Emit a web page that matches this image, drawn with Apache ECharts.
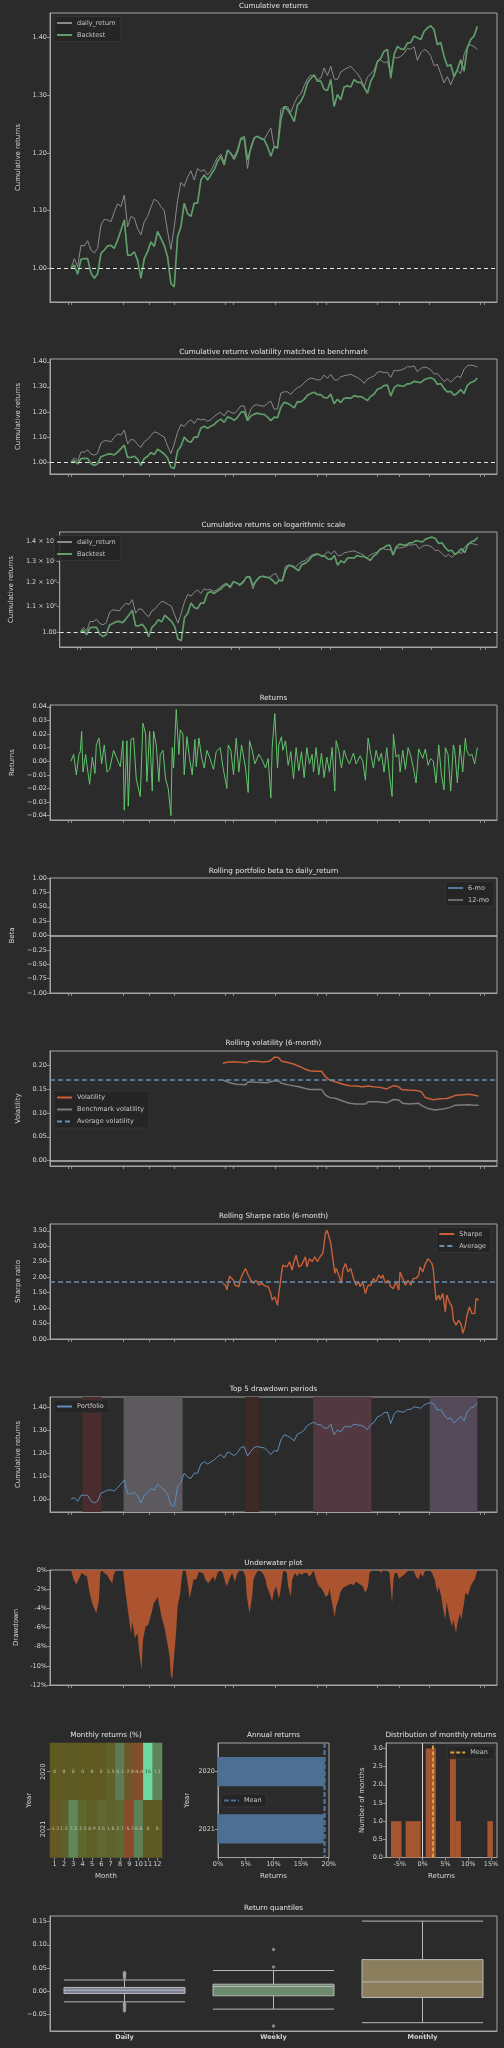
<!DOCTYPE html>
<html><head><meta charset="utf-8">
<script src="https://cdn.jsdelivr.net/npm/echarts@6/dist/echarts.min.js"></script>
<style>html,body{margin:0;padding:0;background:#2b2b2b}#c{width:504px;height:2048px}</style>
</head><body><div id="c"></div>
<script>
// ---------------- DATA ----------------
// cumulative series sampled every 2.5 trading days from day 0
const cumStep = 2.5;
const benchCum = [1.000,1.017,1.003,1.040,1.039,1.048,1.032,1.027,1.035,1.075,
1.085,1.084,1.081,1.098,1.112,1.107,1.127,1.072,1.090,1.087,
1.069,1.058,1.081,1.090,1.106,1.120,1.116,1.107,1.100,1.064,
1.033,1.072,1.118,1.149,1.142,1.158,1.169,1.153,1.173,1.168,
1.171,1.162,1.169,1.181,1.192,1.198,1.183,1.205,1.198,1.194,
1.206,1.224,1.223,1.173,1.211,1.227,1.228,1.224,1.223,1.234,
1.243,1.211,1.211,1.275,1.280,1.280,1.270,1.285,1.297,1.302,
1.316,1.328,1.335,1.332,1.327,1.329,1.347,1.334,1.350,1.328,
1.327,1.340,1.344,1.347,1.350,1.343,1.337,1.328,1.314,1.331,
1.337,1.343,1.358,1.361,1.356,1.358,1.337,1.366,1.364,1.367,
1.372,1.381,1.379,1.384,1.360,1.373,1.379,1.376,1.368,1.351,
1.353,1.337,1.321,1.332,1.318,1.332,1.343,1.337,1.370,1.384,
1.387,1.384,1.379];
const backtestCum = [1.000,1.006,0.990,1.016,1.017,1.017,0.992,0.983,0.991,1.026,
1.032,1.039,1.040,1.035,1.049,1.066,1.084,1.023,1.023,1.029,
1.014,0.983,1.017,1.029,1.046,1.038,1.064,1.052,1.040,1.020,
0.974,0.968,1.055,1.072,1.113,1.095,1.090,1.113,1.113,1.153,
1.162,1.153,1.162,1.171,1.185,1.194,1.179,1.205,1.199,1.189,
1.202,1.225,1.228,1.188,1.208,1.225,1.229,1.225,1.223,1.211,
1.194,1.211,1.208,1.257,1.280,1.275,1.266,1.254,1.283,1.289,
1.301,1.321,1.329,1.335,1.324,1.324,1.310,1.308,1.327,1.280,
1.301,1.292,1.314,1.316,1.314,1.327,1.322,1.322,1.314,1.303,
1.324,1.335,1.358,1.364,1.376,1.379,1.329,1.370,1.384,1.380,
1.379,1.390,1.391,1.402,1.399,1.396,1.410,1.416,1.420,1.413,
1.387,1.391,1.367,1.350,1.353,1.332,1.344,1.361,1.341,1.382,
1.396,1.402,1.419];
const volMatchedCum = [1.000,1.005,0.992,1.013,1.014,1.014,0.994,0.986,0.993,1.021,
1.026,1.031,1.032,1.028,1.039,1.053,1.067,1.018,1.018,1.023,
1.011,0.986,1.014,1.023,1.037,1.030,1.051,1.042,1.032,1.016,
0.979,0.974,1.044,1.063,1.099,1.084,1.079,1.099,1.099,1.135,
1.143,1.135,1.143,1.150,1.163,1.171,1.158,1.180,1.175,1.166,
1.178,1.198,1.201,1.165,1.183,1.191,1.195,1.191,1.190,1.179,
1.165,1.179,1.177,1.218,1.238,1.234,1.226,1.216,1.241,1.240,
1.250,1.266,1.273,1.278,1.269,1.269,1.257,1.256,1.271,1.232,
1.250,1.237,1.254,1.256,1.254,1.265,1.261,1.261,1.254,1.245,
1.262,1.271,1.290,1.295,1.305,1.307,1.263,1.296,1.307,1.304,
1.303,1.312,1.313,1.322,1.319,1.317,1.328,1.333,1.336,1.330,
1.310,1.313,1.294,1.280,1.282,1.266,1.275,1.289,1.273,1.306,
1.317,1.322,1.335];

const retDays = [0,2,4,6,7,8,9,11,12,14,16,18,19,21,23,25,27,29,32,34,
37,39,40,42,43,45,47,49,52,54,56,57,59,61,62,64,66,67,69,71,
73,75,76,77,79,81,82,84,85,87,89,91,93,94,96,98,100,102,104,107,
109,112,114,117,118,120,122,124,126,128,131,133,134,136,138,141,143,146,148,150,
151,153,155,156,158,159,161,163,165,167,169,171,173,175,177,179,181,182,184,186,
188,190,192,194,196,198,199,201,203,205,207,209,212,214,217,219,221,223,225,227,
229,231,233,235,237,239,241,242,244,246,247,249,251,253,255,257,259,261,262,264,
266,268,270,272,274,276,278,280,281,283,285,287,288,290,292,294,296,297,299,301,303,305];
const retValues = [0.000,0.005,-0.010,0.005,0.007,0.022,-0.008,0.005,-0.003,-0.017,
0.003,-0.009,0.012,0.017,-0.002,0.012,-0.008,-0.006,0.008,0.003,
-0.004,0.015,-0.036,0.015,-0.033,0.016,0.017,-0.013,-0.026,0.028,
0.020,-0.015,0.022,-0.022,0.022,0.012,-0.015,0.005,0.008,-0.013,
-0.020,-0.040,0.010,-0.005,0.038,0.005,0.023,0.020,-0.010,0.018,
0.002,-0.010,0.016,-0.004,0.017,0.003,-0.005,0.008,0.003,-0.006,
0.007,0.010,-0.004,-0.020,0.012,0.008,-0.010,0.017,-0.008,0.012,
-0.005,-0.023,0.015,0.008,-0.002,0.005,0.002,-0.005,0.002,-0.027,
0.010,0.035,-0.005,0.012,0.018,0.008,0.015,-0.003,0.007,-0.013,
0.010,-0.007,0.007,-0.012,0.010,-0.002,0.005,-0.008,0.010,-0.010,
0.006,-0.012,0.003,-0.008,0.010,-0.022,0.015,0.008,-0.005,0.008,
0.002,-0.002,0.006,-0.002,0.004,0.000,-0.014,0.017,0.005,-0.005,
0.008,0.000,0.006,-0.008,0.010,-0.010,-0.026,0.020,0.003,0.005,
-0.008,0.008,-0.006,0.010,0.004,-0.005,-0.016,0.009,0.009,0.002,
0.009,-0.003,0.002,0.000,-0.016,0.012,-0.010,-0.021,0.010,0.005,
-0.022,0.012,0.008,-0.016,0.012,-0.008,0.017,0.008,0.004,0.005,
-0.002,0.010];

const volDays = [114,117,122,127,132,134,139,144,149,153,156,158,162,167,172,176,179,184,188,191,
194,199,204,209,214,219,223,227,232,237,242,246,248,253,259,263,266,269,272,277,282,286,289,294,299,303,306];
const volValues = [0.2035,0.2056,0.207,0.2056,0.205,0.208,0.2077,0.2063,0.2077,0.217,
0.215,0.208,0.2056,0.202,0.1965,0.191,0.188,0.187,0.187,0.1756,
0.1686,0.1645,0.160,0.1568,0.156,0.1547,0.156,0.1547,0.1533,0.150,
0.1568,0.1547,0.149,0.1477,0.147,0.144,0.132,0.1296,0.1275,0.1296,
0.130,0.1338,0.137,0.138,0.1387,0.137,0.135];
const benchVolDays = [114,119,124,131,133,139,147,152,156,158,164,171,176,179,188,191,194,199,204,209,
214,221,223,229,237,242,246,249,254,261,264,268,273,279,284,288,293,298,302,306];
const benchVolValues = [0.1686,0.163,0.160,0.159,0.165,0.1638,0.163,0.1666,0.1666,0.1617,
0.158,0.1547,0.151,0.149,0.149,0.137,0.1324,0.130,0.1247,0.120,
0.1185,0.1185,0.123,0.123,0.121,0.128,0.127,0.120,0.1185,0.120,
0.114,0.109,0.106,0.108,0.111,0.1157,0.1164,0.117,0.1157,0.1157];
const avgVolatility = 0.169;

const sharpeDays = [114,116,117,119,122,123,126,127,129,131,133,135,137,139,141,143,146,148,150,151,
153,155,156,158,159,162,164,166,167,169,171,173,176,177,179,181,183,185,187,189,
191,192,193,195,196,198,199,201,203,204,206,208,210,212,214,216,217,219,221,223,
225,227,229,231,233,234,236,238,240,242,244,246,247,249,251,253,255,257,259,261,
262,264,266,268,271,272,274,276,277,279,281,282,284,286,287,289,291,293,294,296,
297,299,301,303,304,306];
const sharpeValues = [1.80,1.74,1.58,2.03,1.90,1.74,1.69,1.90,2.12,2.28,
2.07,1.90,1.80,1.90,1.74,1.80,1.71,1.69,1.47,1.26,
1.36,1.09,1.47,2.12,2.39,2.33,2.50,2.23,2.44,2.71,
2.33,2.39,2.66,2.33,2.60,2.50,2.66,2.50,2.66,2.77,
3.41,3.52,3.41,3.09,2.77,2.12,2.28,2.07,1.80,2.23,
2.44,2.17,2.28,1.96,1.74,1.85,1.69,1.85,1.47,1.74,
1.74,1.96,1.85,2.07,1.96,2.07,1.80,1.90,1.69,1.63,
1.85,1.58,2.17,1.96,1.74,1.90,1.74,1.96,1.96,2.07,
2.33,2.17,2.44,2.60,2.44,2.23,1.26,1.42,1.26,1.47,
0.88,1.42,1.20,1.04,0.61,0.45,0.61,0.45,0.18,0.45,
0.72,1.04,0.82,0.82,1.31,1.26];
const avgSharpe = 1.85;

const ddStart = [8.5, 39.5, 130.5, 181.75, 269.25];
const ddEnd = [23, 83.75, 141.25, 225.5, 305];

const uwDays = [0,2,4,6,8,10,12,14,16,18,19,21,22,23,25,27,29,31,32,34,
39,41,43,45,46,48,50,51,53,54,56,58,59,61,62,64,65,66,68,70,
72,74,75,76,77,79,80,82,83,84,86,88,89,91,92,94,96,97,99,101,
103,105,107,108,110,112,114,116,117,119,121,123,125,127,129,131,132,134,136,137,
139,141,144,146,147,149,151,152,154,156,157,159,160,162,163,165,166,168,170,171,
173,175,177,179,181,182,184,186,188,190,191,193,194,196,198,199,201,202,204,206,
208,210,212,214,216,217,219,221,223,224,226,231,233,234,237,239,241,242,243,245,
246,248,250,252,254,257,259,261,262,264,266,269,271,273,275,276,278,279,281,282,
284,286,287,289,290,292,293,295,296,298,300,301,303,305];
const uwValues = [0,-1.0,-1.5,-0.9,-0.3,-0.5,-0.7,-2.4,-3.5,-4.2,
-4.5,-3.1,-0.3,0,-0.3,-0.5,-1.0,-1.4,-0.5,0,
0,-2.4,-4.5,-6.6,-5.4,-7.1,-6.6,-8.3,-10.4,-7.3,
-5.9,-5.7,-5.2,-4.2,-3.5,-3.1,-2.8,-3.5,-4.9,-5.9,
-7.3,-9.0,-11.0,-11.4,-9.7,-6.3,-3.8,-2.4,-1.0,0,
0,-1.7,-3.0,-1.7,-1.0,-1.0,-0.2,0,-0.3,-1.0,
-1.4,-1.0,-0.7,-1.2,-0.3,0,-0.3,-1.4,-1.7,-0.9,
-0.3,-1.2,-0.3,0,0,-0.7,-2.8,-4.5,-2.8,-1.0,
-0.3,0,-0.3,-1.0,-1.7,-2.4,-3.3,-2.4,-1.7,-3.0,
-2.4,-0.3,0,-0.3,-1.7,-2.8,-1.0,-0.3,-0.7,-0.3,
-0.5,-0.3,-0.3,-0.7,-0.3,0,-1.0,-1.7,-1.9,-2.4,
-2.8,-2.6,-1.9,-3.5,-4.9,-3.8,-3.1,-2.4,-1.9,-1.7,
-1.6,-1.4,-1.6,-1.2,-1.4,-1.6,-1.7,-2.4,-1.7,-0.3,
0,0,-0.3,0,0,-0.3,-3.5,-1.0,-0.3,-0.3,
-0.9,-0.7,-0.5,-0.2,0,0,-0.7,-1.0,-0.3,-0.7,
0,0,-0.3,-1.0,-2.4,-1.7,-2.8,-3.8,-5.2,-3.3,
-4.9,-5.9,-5.2,-6.6,-5.6,-4.5,-5.2,-3.5,-2.4,-2.6,
-1.7,-1.4,-1.0,0];

const xTickDays = [-2, 0, 39.5, 58.5, 77.5, 116, 121.75, 153, 184.75, 191.5, 230, 246.75, 269, 307.25, 310.5];

const months = ['1','2','3','4','5','6','7','8','9','10','11','12'];
const years = ['2020','2021'];
const monthly2020 = [0,0,0,0,0,0,1.5,6.1,-2.8,-4.4,15,7.1];
const monthly2021 = [-1.2,1.2,7.3,2.3,0.9,2.5,1.6,2.7,-5.7,6.6,0,0];

const annualYears = ['2020','2021'];
const annualReturns = [19.3, 19.1];
const annualMean = 19.2;

const histFrom = [-6.9, -3.7, 0.7, 6.0, 7.3, 14.2];
const histTo = [-4.6, -0.4, 2.9, 7.3, 8.4, 15.4];
const histCount = [1, 1, 3, 3, 1, 1];
const monthlyMean = 2.2;

const quantileCats = ['Daily','Weekly','Monthly'];
const dailyBox = [-0.023, -0.005, 0.002, 0.008, 0.024];
const weeklyBox = [-0.0387, -0.010, 0.010, 0.015, 0.0444];
const monthlyBox = [-0.068, -0.0136, 0.020, 0.068, 0.151];
const dailyOutliers = [0.028, 0.031, 0.034, 0.036, 0.038, 0.040, -0.026, -0.029, -0.031, -0.034, -0.037, -0.040, -0.043];
const weeklyOutliers = [0.090, 0.052, -0.075];

// ---------------- STYLE / LAYOUT ----------------
const FF = 'DejaVu Sans';
const TXT = '#d4d4d4';
const AX = '#a4a4a4';
const C_BENCH = '#8a8a8a', C_GREEN = '#5f9d6b', C_RET = '#62c46c', C_ORANGE = '#c9603a', C_AVG = '#6c8fb0', C_BLUE = '#5d8fbd';
const ddColors = ['#4a2c2f', '#5c5a5f', '#3d2a26', '#523841', '#554a59'];
const L = 50, W = 447, H = 115;
const gridTops = [13, 359, 532, 705, 878, 1051, 1224, 1397, 1570];
const grids = [];
gridTops.forEach((t, i) => grids.push({left: L, top: t, width: W, height: i === 0 ? 289 : H}));
grids.push({left: 50, top: 1743, width: 112, height: 114.5, show: false});   // 9 heatmap
grids.push({left: 218, top: 1743, width: 111, height: 114.5});              // 10 annual
grids.push({left: 386, top: 1743, width: 111, height: 114.5});              // 11 hist
grids.push({left: 50, top: 1916, width: 447, height: 115});                 // 12 quantiles
grids.forEach(g => { if (g.show !== false) { g.show = true; g.borderColor = AX; g.borderWidth = 1; g.backgroundColor = 'transparent'; } });

const minus = s => s.replace('-', '\u2212');
const f2 = v => minus(v.toFixed(2));
const labelStyle = {color: TXT, fontSize: 6.5, fontFamily: FF, margin: 3};
const nameStyle = {color: TXT, fontSize: 7, fontFamily: FF};
const tickStyle = {show: true, inside: false, length: 3, lineStyle: {color: AX, width: 0.8}};
const axLine = {show: true, onZero: false, lineStyle: {color: AX, width: 1}};
const noLine = {show: false, onZero: false};

function timeX(gi) {
  return {type: 'value', gridIndex: gi, min: -15.75, max: 319.75, axisLine: axLine, splitLine: {show: false},
    axisLabel: {show: false}, axisTick: Object.assign({customValues: xTickDays}, tickStyle)};
}
function valY(gi, min, max, ticks, fmt, name, gap, type) {
  return {type: type || 'value', gridIndex: gi, min: min, max: max, axisLine: axLine, splitLine: {show: false},
    axisTick: Object.assign({customValues: ticks}, tickStyle),
    axisLabel: Object.assign({customValues: ticks, formatter: fmt}, labelStyle),
    name: name, nameLocation: 'middle', nameGap: gap, nameTextStyle: nameStyle};
}
const xAxes = [], yAxes = [];
for (let i = 0; i < 9; i++) xAxes.push(timeX(i));
const cumTicks = [1.0, 1.1, 1.2, 1.3, 1.4];
yAxes.push(valY(0, 0.942, 1.442, cumTicks, f2, 'Cumulative returns', 24));
yAxes.push(valY(1, 0.952, 1.411, cumTicks, f2, 'Cumulative returns', 24));
yAxes.push(valY(2, 0.946, 1.4475, cumTicks, v => Math.abs(v - 1) < 1e-9 ? '1.00' : v.toFixed(1) + ' \u00d7 10\u2070', 'Cumulative returns', 40, 'log'));
yAxes.push(valY(3, -0.0432, 0.0413, [-0.04, -0.03, -0.02, -0.01, 0, 0.01, 0.02, 0.03, 0.04], f2, 'Returns', 29));
yAxes.push(valY(4, -1, 1, [-1, -0.75, -0.5, -0.25, 0, 0.25, 0.5, 0.75, 1], f2, 'Beta', 26));
yAxes.push(valY(5, -0.011, 0.2293, [0, 0.05, 0.1, 0.15, 0.2], f2, 'Volatility', 24));
yAxes.push(valY(6, 0, 3.72, [0, 0.5, 1, 1.5, 2, 2.5, 3, 3.5], f2, 'Sharpe ratio', 24));
yAxes.push(valY(7, 0.9437, 1.4446, cumTicks, f2, 'Cumulative returns', 24));
yAxes.push(valY(8, -12, 0, [-12, -10, -8, -6, -4, -2, 0], v => v + '%', 'Drawdown', 26));
// heatmap axes
xAxes.push({type: 'category', gridIndex: 9, data: months, axisLine: noLine, splitLine: {show: false},
  axisTick: Object.assign({alignWithLabel: true, interval: 0}, tickStyle), axisLabel: Object.assign({interval: 0}, labelStyle),
  name: 'Month', nameLocation: 'middle', nameGap: 15, nameTextStyle: nameStyle});
yAxes.push({type: 'category', gridIndex: 9, data: years, inverse: true, axisLine: noLine, splitLine: {show: false},
  axisTick: Object.assign({alignWithLabel: true}, tickStyle), axisLabel: Object.assign({rotate: 90, interval: 0}, labelStyle),
  name: 'Year', nameLocation: 'middle', nameGap: 17, nameTextStyle: nameStyle});
// annual axes
xAxes.push({type: 'value', gridIndex: 10, min: 0, max: 20.05, axisLine: axLine, splitLine: {show: false},
  axisTick: Object.assign({customValues: [0, 5, 10, 15, 20]}, tickStyle),
  axisLabel: Object.assign({customValues: [0, 5, 10, 15, 20], formatter: v => v + '%'}, labelStyle),
  name: 'Returns', nameLocation: 'middle', nameGap: 15, nameTextStyle: nameStyle});
yAxes.push({type: 'category', gridIndex: 10, data: annualYears, inverse: true, axisLine: axLine, splitLine: {show: false},
  axisTick: Object.assign({alignWithLabel: true}, tickStyle), axisLabel: labelStyle,
  name: 'Year', nameLocation: 'middle', nameGap: 27, nameTextStyle: nameStyle});
// hist axes
xAxes.push({type: 'value', gridIndex: 11, min: -8, max: 16.3, axisLine: axLine, splitLine: {show: false},
  axisTick: Object.assign({customValues: [-5, 0, 5, 10, 15]}, tickStyle),
  axisLabel: Object.assign({customValues: [-5, 0, 5, 10, 15], formatter: v => v + '%'}, labelStyle),
  name: 'Returns', nameLocation: 'middle', nameGap: 15, nameTextStyle: nameStyle});
yAxes.push(valY(11, 0, 3.15, [0, 0.5, 1, 1.5, 2, 2.5, 3], v => v.toFixed(1), 'Number of months', 20));
// quantile axes
xAxes.push({type: 'category', gridIndex: 12, data: quantileCats, axisLine: axLine, splitLine: {show: false},
  axisTick: Object.assign({alignWithLabel: true}, tickStyle), axisLabel: Object.assign({fontWeight: 'bold'}, labelStyle)});
yAxes.push(valY(12, -0.0859, 0.162, [-0.05, 0, 0.05, 0.1, 0.15], f2, '', 20));

const cumData = arr => arr.map((v, i) => [i * cumStep, v]);
const pairs = (d, v) => d.map((x, i) => [x, v[i]]);
const noMark = {symbol: ['none', 'none'], silent: true, label: {show: false}, animation: false};
const hline = (y, color, type, width) => Object.assign({data: [{yAxis: y}], lineStyle: {color: color, type: type, width: width}}, noMark);
const vline = (x, color, type, width) => Object.assign({data: [{xAxis: x}], lineStyle: {color: color, type: type, width: width}}, noMark);
function line(name, gi, data, color, width, extra) {
  return Object.assign({name: name, type: 'line', xAxisIndex: gi, yAxisIndex: gi, data: data, symbol: 'none',
    lineStyle: {color: color, width: width}, itemStyle: {color: color}, z: 3}, extra || {});
}
const WHITE_DASH = '#e6e6e6';
const series = [];
// panel 1
series.push(line('daily_return', 0, cumData(benchCum), C_BENCH, 1));
series.push(line('Backtest', 0, cumData(backtestCum), C_GREEN, 1.7, {markLine: hline(1, WHITE_DASH, [4, 3], 1.2)}));
// panel 2
series.push(line('daily_return vm', 1, cumData(benchCum), C_BENCH, 1));
series.push(line('Backtest vm', 1, cumData(volMatchedCum), C_GREEN, 1.7, {markLine: hline(1, WHITE_DASH, [4, 3], 1.2)}));
// panel 3
series.push(line('daily_return', 2, cumData(benchCum), C_BENCH, 1));
series.push(line('Backtest', 2, cumData(backtestCum), C_GREEN, 1.7, {markLine: hline(1, WHITE_DASH, [4, 3], 1.2)}));
// panel 4
series.push(line('Returns', 3, pairs(retDays, retValues), C_RET, 1));
// panel 5
series.push(line('6-mo', 4, [], '#56779a', 1.5, {markLine: hline(0, '#bdbdbd', 'solid', 1.5)}));
series.push(line('12-mo', 4, [], '#6a6a6a', 1.5));
// panel 6
series.push(line('Volatility', 5, pairs(volDays, volValues), C_ORANGE, 1.5, {markLine: hline(0, '#bdbdbd', 'solid', 1.5)}));
series.push(line('Benchmark volatility', 5, pairs(benchVolDays, benchVolValues), '#7c7c7c', 1.5));
series.push(line('Average volatility', 5, [], C_AVG, 1.5, {lineStyle: {color: C_AVG, width: 1.5, type: [5, 3]}, markLine: hline(avgVolatility, C_AVG, [5, 3], 1.5)}));
// panel 7
series.push(line('Sharpe', 6, pairs(sharpeDays, sharpeValues), C_ORANGE, 1.4));
series.push(line('Average', 6, [], C_AVG, 1.5, {lineStyle: {color: C_AVG, width: 1.5, type: [5, 3]}, markLine: hline(avgSharpe, C_AVG, [5, 3], 1.5)}));
// panel 8
series.push({name: 'periods', type: 'line', xAxisIndex: 7, yAxisIndex: 7, data: [], z: 1,
  markArea: {silent: true, data: ddStart.map((s, i) => [{xAxis: s, itemStyle: {color: ddColors[i]}}, {xAxis: ddEnd[i]}])}});
series.push(line('Portfolio', 7, cumData(backtestCum), C_BLUE, 1));
// panel 9
series.push(line('Drawdown', 8, pairs(uwDays, uwValues), '#b3562f', 0, {areaStyle: {color: '#b3562f', opacity: 0.95}}));
// heatmap
const heatData = [];
monthly2020.forEach((v, m) => heatData.push({value: [m, 0, v], label: {color: v > 10 ? '#1e3a2a' : '#c6c2a8'}}));
monthly2021.forEach((v, m) => heatData.push({value: [m, 1, v], label: {color: v > 10 ? '#1e3a2a' : '#c6c2a8'}}));
const heatIndex = series.length;
series.push({type: 'heatmap', xAxisIndex: 9, yAxisIndex: 9, data: heatData,
  label: {show: true, fontSize: 4.6, fontFamily: FF, formatter: p => String(p.value[2])}});
// annual
series.push({name: 'Annual', type: 'bar', xAxisIndex: 10, yAxisIndex: 10, data: annualReturns, barWidth: '51%', itemStyle: {color: '#4c6f92'}});
series.push({name: 'Mean', type: 'line', xAxisIndex: 10, yAxisIndex: 10, data: [], symbol: 'none', itemStyle: {color: '#4c6f92'},
  lineStyle: {color: '#4c6f92', width: 2.5, type: [5, 2]}, markLine: vline(annualMean, '#4c6f92', [5, 2], 2.5)});
// hist
series.push({name: 'hist', type: 'custom', xAxisIndex: 11, yAxisIndex: 11,
  data: histFrom.map((f, i) => [f, histTo[i], histCount[i]]), encode: {x: [0, 1], y: 2},
  renderItem: (params, api) => {
    const p0 = api.coord([api.value(0), api.value(2)]);
    const p1 = api.coord([api.value(1), 0]);
    return {type: 'rect', shape: {x: p0[0], y: p0[1], width: p1[0] - p0[0], height: p1[1] - p0[1]}, style: {fill: '#a5552f'}};
  },
  markLine: vline(0, '#d6d6d6', 'solid', 1)});
series.push({name: 'Mean ', type: 'line', xAxisIndex: 11, yAxisIndex: 11, data: [], symbol: 'none', itemStyle: {color: '#d4a23c'},
  lineStyle: {color: '#d4a23c', width: 2, type: [4, 2]}, markLine: vline(monthlyMean, '#d4a23c', [4, 2], 2)});
// quantiles
series.push({name: 'quantiles', type: 'boxplot', xAxisIndex: 12, yAxisIndex: 12, boxWidth: [121, 121],
  itemStyle: {borderColor: '#b9b9b9', borderWidth: 1},
  data: [{value: dailyBox, itemStyle: {color: '#7a8094'}}, {value: weeklyBox, itemStyle: {color: '#6c8b6e'}}, {value: monthlyBox, itemStyle: {color: '#8b7e5d'}}]});
const outData = [];
dailyOutliers.forEach(v => outData.push(['Daily', v]));
weeklyOutliers.forEach(v => outData.push(['Weekly', v]));
series.push({name: 'outliers', type: 'scatter', xAxisIndex: 12, yAxisIndex: 12, data: outData, symbol: 'diamond', symbolSize: 4,
  itemStyle: {color: '#a8a8a8'}});

const titleDefs = [
  ['Cumulative returns', 273.5, 3], ['Cumulative returns volatility matched to benchmark', 273.5, 349],
  ['Cumulative returns on logarithmic scale', 273.5, 522], ['Returns', 273.5, 695],
  ['Rolling portfolio beta to daily_return', 273.5, 868], ['Rolling volatility (6-month)', 273.5, 1040],
  ['Rolling Sharpe ratio (6-month)', 273.5, 1213], ['Top 5 drawdown periods', 273.5, 1386],
  ['Underwater plot', 273.5, 1560], ['Monthly returns (%)', 106, 1732], ['Annual returns', 273.5, 1732],
  ['Distribution of monthly returns', 441, 1732], ['Return quantiles', 273.5, 1905]];
const titles = titleDefs.map(t => ({text: t[0], left: t[1], top: t[2], textAlign: 'center', padding: 0,
  textStyle: {color: '#e4e4e4', fontSize: 7.2, fontWeight: 'normal', fontFamily: FF}}));

const legBase = {orient: 'vertical', itemWidth: 15, itemHeight: 6, itemGap: 5, selectedMode: false,
  textStyle: {color: '#c6c6c6', fontSize: 6.5, fontFamily: FF}, backgroundColor: 'rgba(36,36,36,0.85)',
  borderColor: '#3e3e3e', borderWidth: 0.6, borderRadius: 1.5, padding: [3, 5, 3, 2],
  itemStyle: {opacity: 0, borderWidth: 0}};
const leg = o => Object.assign({}, legBase, o);
const legends = [
  leg({data: ['daily_return', 'Backtest'], left: 54, top: 16.5}),
  leg({data: ['daily_return', 'Backtest'], left: 54, top: 535.5}),
  leg({data: ['6-mo', '12-mo'], right: 10, top: 881.5}),
  leg({data: ['Volatility', 'Benchmark volatility', 'Average volatility'], left: 54, top: 1091}),
  leg({data: ['Sharpe', 'Average'], right: 13, top: 1227.5}),
  leg({data: ['Portfolio'], left: 54, top: 1400}),
  leg({data: ['Mean'], left: 221, top: 1794}),
  leg({data: ['Mean '], right: 9, top: 1746})
];

const chart = echarts.init(document.getElementById('c'), null, {renderer: 'canvas'});
chart.setOption({
  backgroundColor: '#2b2b2b', animation: false, textStyle: {fontFamily: FF},
  title: titles, grid: grids, xAxis: xAxes, yAxis: yAxes, legend: legends,
  visualMap: [{type: 'continuous', show: false, seriesIndex: heatIndex, dimension: 2, min: -6, max: 15,
    inRange: {color: ['#8d4a2d', '#735629', '#5e5a22', '#5f6934', '#5c7b50', '#619a68', '#67b985', '#6fd8a1']}}],
  series: series
});
</script></body></html>
